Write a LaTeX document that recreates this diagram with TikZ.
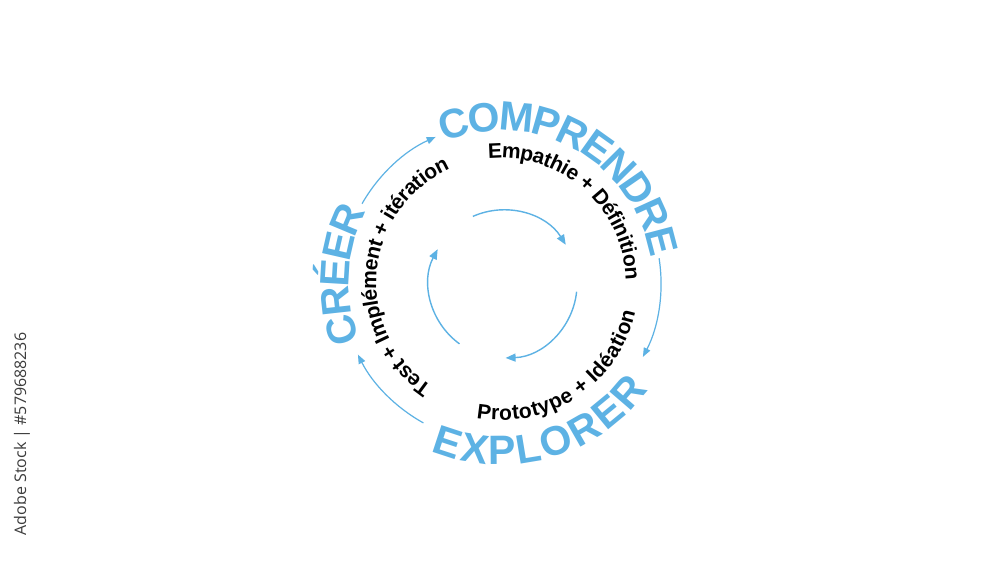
\documentclass[tikz,border=0pt]{standalone}
\usepackage{fontspec}
\setmainfont{Liberation Sans}
\newfontfamily\stampfont{Open Sans}
\usetikzlibrary{arrows.meta, decorations.text}
\definecolor{cycleblue}{RGB}{93,178,228}
\definecolor{stampgray}{RGB}{60,60,60}
\newcommand{\bigword}{\fontsize{41}{41}\selectfont\bfseries\color{cycleblue}}
\newcommand{\smallword}{\fontsize{21}{21}\selectfont\bfseries}
\tikzset{
outerarc/.style={
  draw=cycleblue,
  line width=1.2pt,
  -{Triangle[length=9pt, width=7pt]}
  },
innerarc/.style={
  draw=cycleblue,
  line width=1.4pt,
  -{Triangle[length=10pt, width=8pt]}
  },
bigtext/.style={decorate, decoration={text along path, text align=center, raise=-14.7pt, text={|\bigword|#1}}},
smalltext/.style={decorate, decoration={text along path, text align=center, raise=-6.3pt, text={|\smallword|#1}}}
}
\begin{document}
\begin{tikzpicture}[x=1pt, y=1pt]
\useasboundingbox[fill=white] (0,0) rectangle (1000,562);

\coordinate (O) at (501,279);
\coordinate (c) at (503,278);

% blue phases
\path[bigtext=COMPRENDRE] (O) ++(130.8:167pt) arc[start angle=130.8, end angle=-9.2, radius=167pt];
\path[bigtext=EXPLORER]   (O) ++(215.7:167pt) arc[start angle=215.7, end angle=355.7, radius=167pt];
\path[bigtext=CRÉER]      (O) ++(236.9:167pt) arc[start angle=236.9, end angle=116.9, radius=167pt];

% black steps
\path[smalltext={Empathie + Définition}]        (O) ++(118.6:131pt) arc[start angle=118.6, end angle=-21.4, radius=131pt];
\path[smalltext={Prototype + Idéation}]         (O) ++(233.8:131pt) arc[start angle=233.8, end angle=373.8, radius=131pt];
\path[smalltext={Test + Implément + itération}] (O) ++(250.2:131pt) arc[start angle=250.2, end angle=100.2, radius=131pt];

% outer arrows
\draw[outerarc] (O) ++(150.3:160pt) arc[start angle=150.3, end angle=114.1, radius=160pt];
\draw[outerarc] (O) ++(8.9:160pt)   arc[start angle=8.9, end angle=-27.5, radius=160pt];
\draw[outerarc] (O) ++(241:160pt)   arc[start angle=241, end angle=206.6, radius=160pt];

% inner cycle
\foreach \a in {114, -6, 234}
  \draw[innerarc] (c) ++(\a:74pt) arc[start angle=\a, end angle=\a-82, radius=74pt];

\node[text=stampgray, rotate=90, font=\stampfont\fontsize{16}{16}\selectfont] (stamp) at (22,128) {Adobe Stock | \#579688236};
\end{tikzpicture}
\end{document}
